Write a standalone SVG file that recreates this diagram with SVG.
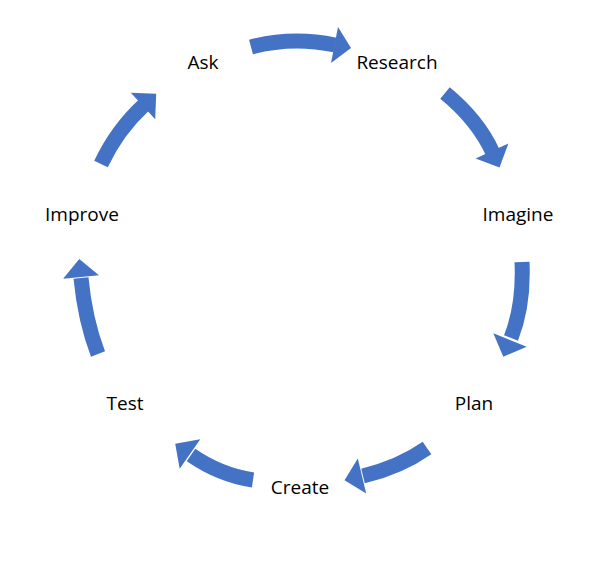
<svg xmlns="http://www.w3.org/2000/svg" width="613" height="565" viewBox="0 0 613 565">
<style>
.b{fill:none;stroke:#4472C4;stroke-width:15}
.h{fill:#4472C4}
text{font-family:"Open Sans","Liberation Sans",sans-serif;font-size:19px;fill:#000;text-anchor:middle}
</style>
<rect width="613" height="565" fill="#fff"/>
<g id="connectors">
<path class="b" d="M251 47 Q292 36 335 45"/><polygon class="h" points="338,27 351,48 331,63"/>
<path class="b" d="M445 93 Q478 120 493 153"/><polygon class="h" points="508.4,143.5 499.5,167.4 475.6,158.5"/>
<path class="b" d="M522 262 Q524 305 511 338"/><polygon class="h" points="493.3,333.3 503.3,356.7 526.7,346.7"/>
<path class="b" d="M427 448 Q400 467 363 476"/><polygon class="h" points="357.8,458.5 344.5,480.2 366.2,493.5"/>
<path class="b" d="M253 480 Q220 475 191 455"/><polygon class="h" points="200.3,439.2 175.2,443.7 179.7,468.8"/>
<path class="b" d="M98 354 Q85 320 81 278"/><polygon class="h" points="63.1,278.7 79.3,259.1 98.9,275.3"/>
<path class="b" d="M101 164 Q117 130 144 105"/><polygon class="h" points="130.8,92.8 156.2,93.8 155.2,119.2"/>
</g>
<g id="ask"><text x="203" y="69">Ask</text></g>
<g id="research"><text x="397" y="69">Research</text></g>
<g id="imagine"><text x="518" y="221">Imagine</text></g>
<g id="plan"><text x="474" y="410">Plan</text></g>
<g id="create"><text x="300" y="494">Create</text></g>
<g id="test"><text x="125" y="410">Test</text></g>
<g id="improve"><text x="82" y="221">Improve</text></g>
</svg>
